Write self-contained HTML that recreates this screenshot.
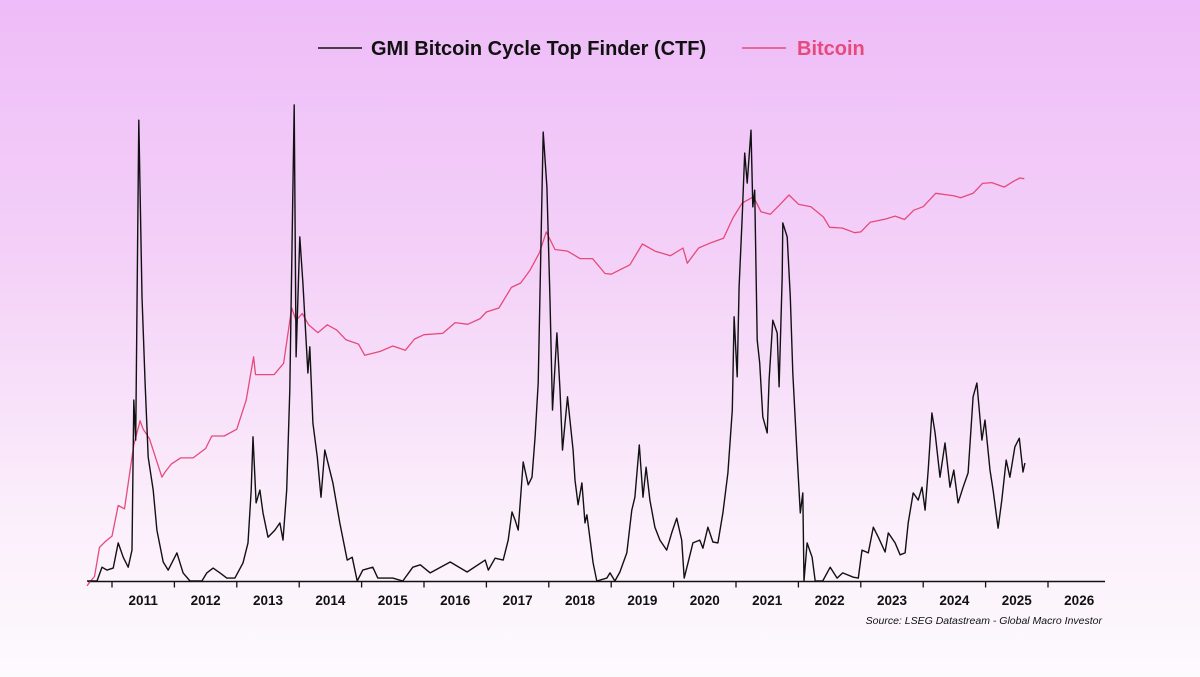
<!DOCTYPE html>
<html><head><meta charset="utf-8">
<style>
html,body{margin:0;padding:0;}
body{width:1200px;height:677px;overflow:hidden;background:linear-gradient(180deg,#eebcf8 0%,#f4d2f8 40%,#fbeefb 75%,#fdfafd 100%);font-family:"Liberation Sans",sans-serif;}
svg{position:absolute;left:0;top:0;}
</style></head>
<body>
<svg id="chart" width="1200" height="677">
  <g>
    <line x1="318" y1="48" x2="362" y2="48" stroke="#111" stroke-width="1.5"/>
    <text x="371" y="55" font-size="20" font-weight="bold" fill="#111">GMI Bitcoin Cycle Top Finder (CTF)</text>
    <line x1="742" y1="48" x2="786" y2="48" stroke="#e64a7b" stroke-width="1.5"/>
    <text x="797" y="55" font-size="20" font-weight="bold" fill="#e64a7b">Bitcoin</text>
  </g>
  <g id="axis"></g>
  <path id="btc" fill="none" stroke="#e64a7b" stroke-width="1.3" stroke-linejoin="round"/>
  <path id="ctf" fill="none" stroke="#111" stroke-width="1.4" stroke-linejoin="round"/>
  <text x="1102" y="624" font-size="10.5" font-style="italic" text-anchor="end" fill="#111">Source: LSEG Datastream - Global Macro Investor</text>
</svg>
<script>
const tickYears = [2011,2012,2013,2014,2015,2016,2017,2018,2019,2020,2021,2022,2023,2024,2025,2026];
const tickLabels = ["2011","2012","2013","2014","2015","2016","2017","2018","2019","2020","2021","2022","2023","2024","2025","2026"];
const btcDates = [2010.6,2010.66,2010.72,2010.8,2010.9,2011.0,2011.1,2011.2,2011.35,2011.45,2011.5,2011.6,2011.7,2011.8,2011.85,2011.95,2012.1,2012.3,2012.5,2012.6,2012.8,2013.0,2013.15,2013.27,2013.3,2013.45,2013.6,2013.75,2013.88,2013.95,2014.05,2014.15,2014.3,2014.45,2014.6,2014.75,2014.95,2015.05,2015.3,2015.5,2015.7,2015.85,2016.0,2016.3,2016.5,2016.7,2016.9,2017.0,2017.2,2017.4,2017.55,2017.7,2017.85,2017.96,2018.1,2018.3,2018.5,2018.7,2018.9,2019.0,2019.3,2019.5,2019.7,2019.95,2020.15,2020.22,2020.4,2020.6,2020.8,2020.95,2021.1,2021.28,2021.4,2021.55,2021.7,2021.85,2022.0,2022.2,2022.4,2022.5,2022.7,2022.9,2023.0,2023.15,2023.4,2023.55,2023.7,2023.85,2024.0,2024.2,2024.5,2024.6,2024.8,2024.95,2025.1,2025.3,2025.45,2025.55,2025.62];
const btcPrices = [0.05,0.06,0.07,0.2,0.25,0.3,0.9,0.8,8,19,14,10,5,2.5,3,4,5,5,7,11,11,14,40,190,100,100,100,150,1100,700,900,600,450,600,500,350,300,200,230,280,240,360,420,440,650,610,750,950,1100,2300,2700,4300,8000,17000,9000,8500,6500,6500,3800,3700,5200,11000,8500,7200,9500,5500,9500,11500,13500,28000,48000,60000,35000,32000,45000,64000,46000,42000,29000,20000,19500,16500,17000,24000,27000,30000,26500,37000,42000,68000,62000,58000,68000,97000,100000,85000,105000,118000,115000];
const ctfDates = [2010.60,2010.76,2010.84,2010.92,2011.02,2011.10,2011.18,2011.26,2011.32,2011.35,2011.38,2011.43,2011.48,2011.53,2011.58,2011.66,2011.72,2011.82,2011.90,2012.04,2012.14,2012.25,2012.44,2012.52,2012.62,2012.73,2012.84,2012.97,2013.10,2013.18,2013.23,2013.26,2013.31,2013.37,2013.42,2013.50,2013.61,2013.69,2013.74,2013.80,2013.85,2013.92,2013.95,2014.01,2014.06,2014.14,2014.17,2014.22,2014.29,2014.35,2014.41,2014.54,2014.65,2014.77,2014.85,2014.93,2015.02,2015.18,2015.26,2015.50,2015.66,2015.82,2015.94,2016.10,2016.42,2016.69,2016.98,2017.03,2017.14,2017.27,2017.35,2017.41,2017.46,2017.51,2017.59,2017.67,2017.73,2017.78,2017.83,2017.91,2017.97,2018.02,2018.06,2018.13,2018.18,2018.22,2018.30,2018.39,2018.42,2018.47,2018.53,2018.58,2018.61,2018.71,2018.77,2018.93,2018.98,2019.06,2019.14,2019.25,2019.33,2019.38,2019.45,2019.51,2019.56,2019.62,2019.70,2019.78,2019.89,2019.97,2020.05,2020.13,2020.17,2020.23,2020.31,2020.42,2020.47,2020.55,2020.63,2020.71,2020.79,2020.87,2020.94,2020.97,2021.02,2021.05,2021.10,2021.14,2021.18,2021.24,2021.27,2021.30,2021.34,2021.38,2021.43,2021.50,2021.53,2021.59,2021.66,2021.69,2021.74,2021.75,2021.82,2021.87,2021.91,2021.98,2022.03,2022.07,2022.09,2022.14,2022.22,2022.27,2022.39,2022.51,2022.62,2022.71,2022.88,2022.96,2023.02,2023.12,2023.20,2023.28,2023.39,2023.44,2023.55,2023.63,2023.71,2023.76,2023.84,2023.92,2023.98,2024.03,2024.08,2024.14,2024.19,2024.27,2024.35,2024.43,2024.49,2024.56,2024.64,2024.72,2024.80,2024.86,2024.94,2024.99,2025.07,2025.12,2025.20,2025.26,2025.33,2025.39,2025.47,2025.54,2025.60,2025.63];
const ctfValues = [0,0,2.9,2.3,2.7,8,5,2.9,6.5,38,29.6,96.8,59.7,41.6,26,19.1,10.7,4,2.3,5.9,1.7,0,0,1.7,2.7,1.7,0.6,0.6,3.8,8,19.1,30.3,16.4,19.1,14.3,9.2,10.7,12.2,8.6,19.1,40.1,100,47.1,72.3,62.6,43.7,49.2,33.2,26,17.6,27.5,20.6,12.2,4.4,5,0,2.3,2.9,0.6,0.6,0,2.9,3.4,1.7,4,1.9,4.4,2.3,4.8,4.4,8.6,14.5,12.8,10.7,25,20.2,21.8,30.3,41.6,94.3,82.8,59,35.9,52.1,40.1,27.5,38.7,27.5,21.2,16,20.6,12.2,13.9,3.8,0,0.6,1.7,0,1.9,5.9,14.9,17.6,28.6,17.6,23.9,17,11.3,8.6,6.5,10.1,13.2,8.6,0.6,3.8,8,8.6,6.9,11.3,8.2,8,14.3,22.7,35.9,55.5,42.9,61.8,76.5,89.9,83.6,94.7,78.6,82.1,50.6,45.8,34.5,31.1,42.2,54.8,52.1,40.8,63.9,75.2,72.3,59.7,43.7,26,14.3,18.5,0,8,5,0,0,2.9,0.6,1.7,0.8,0.6,6.5,5.9,11.3,9.2,6.1,10.1,8,5.5,5.9,12.2,18.5,17,19.7,14.9,23.3,35.3,31.1,21.8,29,19.7,23.3,16.4,19.7,22.7,38.7,41.6,29.6,33.8,23.3,19.1,11.1,17,25.4,21.8,28.2,30,22.9,24.8];

const NS = "http://www.w3.org/2000/svg";
const X0 = 112, PX_PER_YEAR = 62.4, AXIS_Y = 581.5;
function xScale(year){ return X0 + (year - 2011) * PX_PER_YEAR; }
function yCtf(v){ return 581 - v * 4.76; }
function yBtc(p){ return 502.6 - 64 * Math.log10(p); }

const axis = document.getElementById('axis');
const base = document.createElementNS(NS, 'line');


base.setAttribute('x1', 88); base.setAttribute('x2', 1105);
base.setAttribute('y1', AXIS_Y); base.setAttribute('y2', AXIS_Y);
base.setAttribute('stroke', '#111'); base.setAttribute('stroke-width', '1.4');
axis.appendChild(base);
tickYears.forEach((yr, i) => {
  const t = document.createElementNS(NS, 'line');
  
  
  const x = xScale(yr);
  t.setAttribute('x1', x); t.setAttribute('x2', x);
  t.setAttribute('y1', AXIS_Y); t.setAttribute('y2', AXIS_Y + 6);
  t.setAttribute('stroke', '#111'); t.setAttribute('stroke-width', '1.3');
  axis.appendChild(t);
  const lb = document.createElementNS(NS, 'text');
  
  
  lb.setAttribute('x', xScale(yr + 0.5));
  lb.setAttribute('y', 605);
  lb.setAttribute('text-anchor', 'middle');
  lb.setAttribute('font-size', '13.5');
  lb.setAttribute('font-weight', 'bold');
  lb.setAttribute('fill', '#111');
  lb.textContent = tickLabels[i];
  axis.appendChild(lb);
});

function pathFrom(xs, ys, fy){
  return xs.map((d, i) => (i ? 'L' : 'M') + xScale(d).toFixed(1) + ' ' + fy(ys[i]).toFixed(1)).join(' ');
}
document.getElementById('btc').setAttribute('d', pathFrom(btcDates, btcPrices, yBtc));
document.getElementById('ctf').setAttribute('d', pathFrom(ctfDates, ctfValues, yCtf));
</script>
</body></html>
